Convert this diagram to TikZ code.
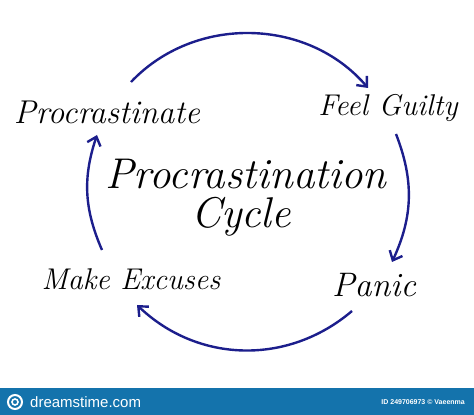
\documentclass[tikz,border=0pt]{standalone}
\usepackage{fontspec}
\newfontfamily\barfont{Liberation Sans}
\usetikzlibrary{arrows.meta}
\definecolor{cycleblue}{RGB}{28,30,140}
\definecolor{barblue}{RGB}{20,115,172}

\begin{document}
\begin{tikzpicture}[x=1pt,y=1pt,->,>={Straight Barb[length=8pt,width=14pt]},
    arc/.style={draw=cycleblue,line width=2.4pt,bend left=#1},
    stage/.style={font=\fontsize{30}{36}\selectfont\itshape,inner sep=0pt},
    heading/.style={font=\fontsize{43}{48}\selectfont\itshape,inner sep=0pt}]

    \useasboundingbox (0,0) rectangle (474,415);

    % 设置节点(阶段)
    \node[stage,font=\fontsize{33}{36}\selectfont\itshape] (proc) at (107,303) {Procrastinate};
    \node[stage] (guilty)  at (388,307) {Feel Guilty};
    \node[stage,font=\fontsize{34}{36}\selectfont\itshape] (panic) at (374,130) {Panic};
    \node[stage] (excuses) at (131,136) {Make Excuses};

    % 中间的标题
    \node[heading] (title) at (246,241) {Procrastination};
    \node[heading] (cycle) at (241,198) {Cycle};

    % 圆弧的端点
    \coordinate (t1) at (131,333);
    \coordinate (t2) at (368,327);
    \coordinate (r1) at (396,281);
    \coordinate (r2) at (392,153);
    \coordinate (b1) at (352,104);
    \coordinate (b2) at (137,110);
    \coordinate (l1) at (102,165);
    \coordinate (l2) at (97,280);

    % 画出循环的箭头
    \draw[arc=48] (t1) to (t2);
    \draw[arc=23] (r1) to (r2);
    \draw[arc=42] (b1) to (b2);
    \draw[arc=21] (l1) to (l2);

    % 底部的条
    \fill[-,barblue] (0,0) rectangle (474,27);
    \coordinate (logo) at (15,13);
    \draw[-,white,line width=2pt] (logo) circle (7);
    \draw[-,white,line width=1.6pt] (logo) circle (3);
    \node[font=\barfont\fontsize{15}{18}\selectfont,text=white,anchor=west,inner sep=0pt] (brand) at (30,13) {dreamstime.com};
    \node[font=\barfont\bfseries\fontsize{7}{8}\selectfont,text=white,anchor=east,inner sep=0pt] (credit) at (465,13) {ID 249706973 © Vaeenma};

\end{tikzpicture}
\end{document}
